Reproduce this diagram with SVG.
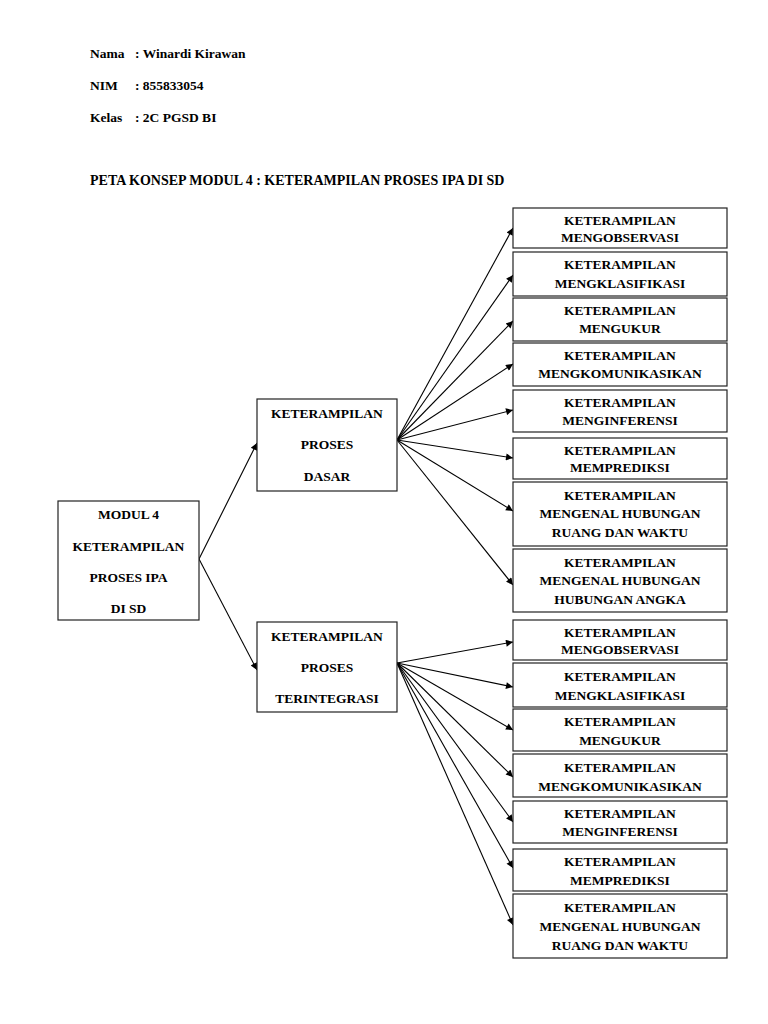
<svg xmlns="http://www.w3.org/2000/svg" width="768" height="1024" viewBox="0 0 768 1024">
<defs>
<marker id="ah" viewBox="0 0 10 10" refX="10" refY="5" markerWidth="9" markerHeight="7" markerUnits="userSpaceOnUse" orient="auto">
<path d="M0,0 L10,5 L0,10 z" fill="#000"/>
</marker>
<style>
text{font-family:"Liberation Serif","Times New Roman",serif;font-weight:bold;font-size:13.5px;fill:#000}
.t{font-size:14px}
.c{text-anchor:middle}
rect{fill:#fff;stroke:#222;stroke-width:1.2}
.conn line{stroke:#000;stroke-width:1.1;marker-end:url(#ah)}
</style>
</defs>
<rect x="0" y="0" width="768" height="1024" style="fill:#fff;stroke:none"/>
<g id="header">
<text x="90" y="58">Nama</text><text x="135" y="58">: Winardi Kirawan</text>
<text x="90" y="90">NIM</text><text x="135" y="90">: 855833054</text>
<text x="90" y="122">Kelas</text><text x="135" y="122">: 2C PGSD BI</text>
<text class="t" x="90" y="185">PETA KONSEP MODUL 4 : KETERAMPILAN PROSES IPA DI SD</text>
</g>
<g class="conn" id="connectors">
<line x1="199" y1="559" x2="257" y2="443"/>
<line x1="199" y1="559" x2="257" y2="670"/>
<line x1="397" y1="440" x2="513" y2="228"/>
<line x1="397" y1="440" x2="513" y2="275"/>
<line x1="397" y1="440" x2="513" y2="321"/>
<line x1="397" y1="440" x2="513" y2="364"/>
<line x1="397" y1="440" x2="513" y2="410"/>
<line x1="397" y1="440" x2="513" y2="458"/>
<line x1="397" y1="440" x2="513" y2="511"/>
<line x1="397" y1="440" x2="513" y2="585"/>
<line x1="397" y1="663" x2="513" y2="642"/>
<line x1="397" y1="663" x2="513" y2="687"/>
<line x1="397" y1="663" x2="513" y2="730"/>
<line x1="397" y1="663" x2="513" y2="777"/>
<line x1="397" y1="663" x2="513" y2="822"/>
<line x1="397" y1="663" x2="513" y2="868"/>
<line x1="397" y1="663" x2="513" y2="925"/>
</g>
<g id="modul">
<rect x="58" y="501" width="141" height="119"/>
<text class="c" x="128.5" y="519">MODUL 4</text>
<text class="c" x="128.5" y="551">KETERAMPILAN</text>
<text class="c" x="128.5" y="582">PROSES IPA</text>
<text class="c" x="128.5" y="613">DI SD</text>
</g>
<g id="dasar">
<rect x="257" y="399" width="140" height="92"/>
<text class="c" x="327" y="418">KETERAMPILAN</text>
<text class="c" x="327" y="449">PROSES</text>
<text class="c" x="327" y="481">DASAR</text>
</g>
<g id="terintegrasi">
<rect x="257" y="622" width="140" height="90"/>
<text class="c" x="327" y="641">KETERAMPILAN</text>
<text class="c" x="327" y="672">PROSES</text>
<text class="c" x="327" y="703">TERINTEGRASI</text>
</g>
<g id="d1"><rect x="513" y="208" width="214" height="40"/><text class="c" x="620" y="225">KETERAMPILAN</text><text class="c" x="620" y="242">MENGOBSERVASI</text></g>
<g id="d2"><rect x="513" y="252" width="214" height="44"/><text class="c" x="620" y="269">KETERAMPILAN</text><text class="c" x="620" y="288">MENGKLASIFIKASI</text></g>
<g id="d3"><rect x="513" y="298" width="214" height="43"/><text class="c" x="620" y="315">KETERAMPILAN</text><text class="c" x="620" y="333">MENGUKUR</text></g>
<g id="d4"><rect x="513" y="343" width="214" height="43"/><text class="c" x="620" y="360">KETERAMPILAN</text><text class="c" x="620" y="378">MENGKOMUNIKASIKAN</text></g>
<g id="d5"><rect x="513" y="390" width="214" height="42"/><text class="c" x="620" y="407">KETERAMPILAN</text><text class="c" x="620" y="425">MENGINFERENSI</text></g>
<g id="d6"><rect x="513" y="438" width="214" height="41"/><text class="c" x="620" y="455">KETERAMPILAN</text><text class="c" x="620" y="472">MEMPREDIKSI</text></g>
<g id="d7"><rect x="513" y="482" width="214" height="64"/><text class="c" x="620" y="500">KETERAMPILAN</text><text class="c" x="620" y="518">MENGENAL HUBUNGAN</text><text class="c" x="620" y="537">RUANG DAN WAKTU</text></g>
<g id="d8"><rect x="513" y="549" width="214" height="63"/><text class="c" x="620" y="567">KETERAMPILAN</text><text class="c" x="620" y="585">MENGENAL HUBUNGAN</text><text class="c" x="620" y="604">HUBUNGAN ANGKA</text></g>
<g id="t1"><rect x="513" y="620" width="214" height="40"/><text class="c" x="620" y="637">KETERAMPILAN</text><text class="c" x="620" y="654">MENGOBSERVASI</text></g>
<g id="t2"><rect x="513" y="663" width="214" height="44"/><text class="c" x="620" y="681">KETERAMPILAN</text><text class="c" x="620" y="700">MENGKLASIFIKASI</text></g>
<g id="t3"><rect x="513" y="709" width="214" height="42"/><text class="c" x="620" y="726">KETERAMPILAN</text><text class="c" x="620" y="745">MENGUKUR</text></g>
<g id="t4"><rect x="513" y="754" width="214" height="43"/><text class="c" x="620" y="772">KETERAMPILAN</text><text class="c" x="620" y="791">MENGKOMUNIKASIKAN</text></g>
<g id="t5"><rect x="513" y="801" width="214" height="42"/><text class="c" x="620" y="818">KETERAMPILAN</text><text class="c" x="620" y="836">MENGINFERENSI</text></g>
<g id="t6"><rect x="513" y="849" width="214" height="42"/><text class="c" x="620" y="866">KETERAMPILAN</text><text class="c" x="620" y="885">MEMPREDIKSI</text></g>
<g id="t7"><rect x="513" y="894" width="214" height="64"/><text class="c" x="620" y="912">KETERAMPILAN</text><text class="c" x="620" y="931">MENGENAL HUBUNGAN</text><text class="c" x="620" y="950">RUANG DAN WAKTU</text></g>
</svg>
